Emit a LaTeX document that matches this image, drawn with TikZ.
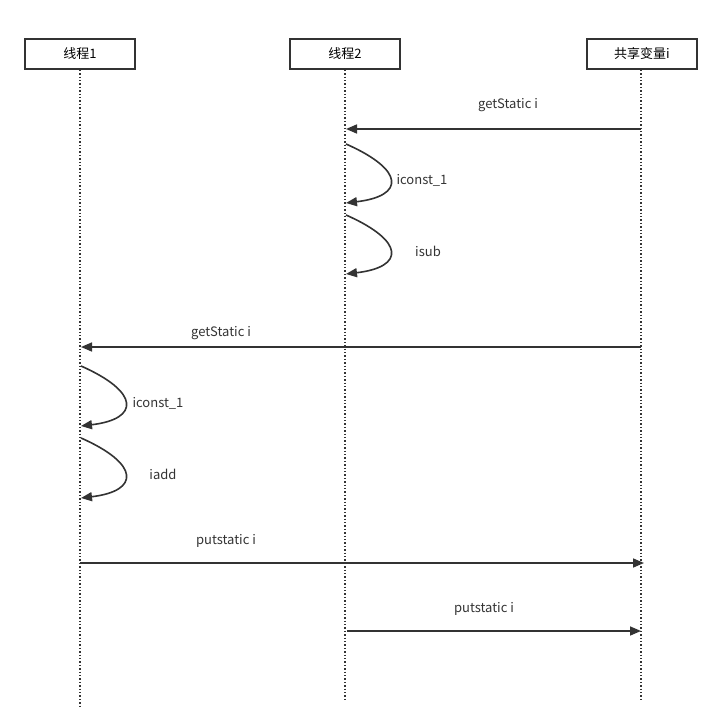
\documentclass[tikz,border=0pt]{standalone}
\usepackage{fontspec}
\setmainfont{Noto Sans CJK SC}
\usetikzlibrary{arrows.meta}
\definecolor{ink}{HTML}{333333}
\tikzset{
  lifebox/.style={draw=ink, line width=1.6pt, minimum width=110pt, minimum height=30pt, inner sep=0pt},
  lifeline/.style={ink, line width=1.4pt, dotted},
  msg/.style={ink, line width=1.6pt, -{Triangle[length=11pt, width=9pt]}},
  msglabel/.style={text=ink, inner sep=0pt}
}
\begin{document}
\begin{tikzpicture}[x=1pt, y=-1pt, font=\fontsize{13}{15}\selectfont]
        % Canvas
        \useasboundingbox (0,0) rectangle (728,709);

        % Participants
        \node[lifebox] (t1) at (80,54) {线程1};
        \node[lifebox] (t2) at (345,54) {线程2};
        \node[lifebox] (var) at (642,54) {共享变量i};

        % Lifeline ends
        \coordinate (t1end) at (80,708);
        \coordinate (t2end) at (345,700);
        \coordinate (varend) at (641,700);
        \draw[lifeline] (t1.south) -- (t1end);
        \draw[lifeline] (t2.south) -- (t2end);
        \draw[lifeline] ([xshift=-1pt]var.south) -- (varend);

        % Thread 2 reads i
        \coordinate (v1) at (641,129);
        \coordinate (b1) at (346,129);
        \draw[msg] (v1) -- (b1);
        \node[msglabel] (l1) at (508,105) {getStatic i};

        % Thread 2 self calls
        \coordinate (b2s) at (346,144);
        \coordinate (b2e) at (346,203);
        \draw[msg] (b2s) .. controls (405,170) and (405,196) .. (b2e);
        \node[msglabel] (l2) at (422,180) {iconst\_1};
        \coordinate (b3s) at (346,215);
        \coordinate (b3e) at (346,274);
        \draw[msg] (b3s) .. controls (405,241) and (405,267) .. (b3e);
        \node[msglabel] (l3) at (428,251) {isub};

        % Thread 1 reads i
        \coordinate (v2) at (641,347);
        \coordinate (a1) at (81,347);
        \draw[msg] (v2) -- (a1);
        \node[msglabel] (l4) at (221,333) {getStatic i};

        % Thread 1 self calls
        \coordinate (a2s) at (81,366);
        \coordinate (a2e) at (81,426);
        \draw[msg] (a2s) .. controls (140,392) and (140,419) .. (a2e);
        \node[msglabel] (l5) at (158,403) {iconst\_1};
        \coordinate (a3s) at (81,438);
        \coordinate (a3e) at (81,498);
        \draw[msg] (a3s) .. controls (140,464) and (140,491) .. (a3e);
        \node[msglabel] (l6) at (163,474) {iadd};

        % Write backs
        \coordinate (a4) at (80,563);
        \coordinate (v3) at (644,563);
        \draw[msg] (a4) -- (v3);
        \node[msglabel] (l7) at (226,541) {putstatic i};
        \coordinate (b4) at (347,631);
        \coordinate (v4) at (641,631);
        \draw[msg] (b4) -- (v4);
        \node[msglabel] (l8) at (484,609) {putstatic i};
\end{tikzpicture}
\end{document}
